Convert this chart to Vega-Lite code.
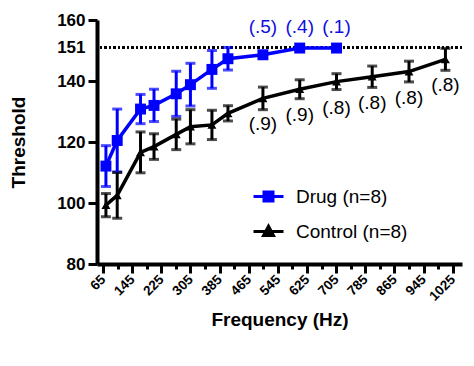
{
  "$schema": "https://vega.github.io/schema/vega-lite/v6.json",
  "width": 365,
  "height": 244,
  "autosize": "none",
  "padding": {"left": 97, "top": 20, "right": 12, "bottom": 102},
  "background": "white",
  "config": {
    "view": {"stroke": null},
    "axis": {"grid": false, "labelFont": "Liberation Sans", "titleFont": "Liberation Sans", "labelColor": "black", "titleColor": "black", "tickColor": "black", "domainColor": "black", "labelFontWeight": "bold", "titleFontWeight": "bold"},
    "legend": {"labelFont": "Liberation Sans"},
    "text": {"font": "Liberation Sans"}
  },
  "data": {
    "values": [
      {"group": "Drug (n=8)", "freq": 73, "mean": 112.1, "sem": 6.7},
      {"group": "Drug (n=8)", "freq": 104, "mean": 120.5, "sem": 10.3},
      {"group": "Drug (n=8)", "freq": 168, "mean": 130.8, "sem": 4.8},
      {"group": "Drug (n=8)", "freq": 205, "mean": 132.0, "sem": 5.3},
      {"group": "Drug (n=8)", "freq": 266, "mean": 135.8, "sem": 7.4},
      {"group": "Drug (n=8)", "freq": 305, "mean": 138.8, "sem": 7.0},
      {"group": "Drug (n=8)", "freq": 364, "mean": 143.8, "sem": 6.2},
      {"group": "Drug (n=8)", "freq": 408, "mean": 147.3, "sem": 3.7},
      {"group": "Drug (n=8)", "freq": 504, "mean": 148.6, "sem": 0, "note": "(.5)"},
      {"group": "Drug (n=8)", "freq": 605, "mean": 150.8, "sem": 0, "note": "(.4)"},
      {"group": "Drug (n=8)", "freq": 706, "mean": 150.8, "sem": 0, "note": "(.1)"},
      {"group": "Control (n=8)", "freq": 73, "mean": 99.3, "sem": 3.8},
      {"group": "Control (n=8)", "freq": 104, "mean": 102.5, "sem": 7.5},
      {"group": "Control (n=8)", "freq": 168, "mean": 116.6, "sem": 6.7},
      {"group": "Control (n=8)", "freq": 205, "mean": 118.5, "sem": 4.2},
      {"group": "Control (n=8)", "freq": 266, "mean": 122.5, "sem": 5.0},
      {"group": "Control (n=8)", "freq": 305, "mean": 125.0, "sem": 5.6},
      {"group": "Control (n=8)", "freq": 364, "mean": 125.6, "sem": 4.8},
      {"group": "Control (n=8)", "freq": 408, "mean": 129.4, "sem": 2.5},
      {"group": "Control (n=8)", "freq": 504, "mean": 134.3, "sem": 3.7, "note": "(.9)"},
      {"group": "Control (n=8)", "freq": 605, "mean": 137.3, "sem": 3.1, "note": "(.9)"},
      {"group": "Control (n=8)", "freq": 706, "mean": 139.8, "sem": 2.6, "note": "(.8)"},
      {"group": "Control (n=8)", "freq": 804, "mean": 141.4, "sem": 3.5, "note": "(.8)"},
      {"group": "Control (n=8)", "freq": 905, "mean": 143.1, "sem": 3.4, "note": "(.8)"},
      {"group": "Control (n=8)", "freq": 1005, "mean": 147.1, "sem": 3.6, "note": "(.8)"}
    ]
  },
  "encoding": {
    "x": {
      "field": "freq", "type": "quantitative",
      "scale": {"domain": [48.5, 1050.5], "nice": false, "zero": false},
      "axis": {
        "title": "Frequency (Hz)", "titleFontSize": 19, "titlePadding": 8,
        "values": [65,105,145,185,225,265,305,345,385,425,465,505,545,585,625,665,705,745,785,825,865,905,945,985,1025],
        "labelExpr": "(datum.value - 65) % 80 == 0 ? '' + datum.value : ''",
        "labelAngle": -45, "labelAlign": "right", "labelBaseline": "middle",
        "labelFontSize": 13.5, "labelPadding": 4, "labelOverlap": false,
        "tickSize": {"condition": {"test": "(datum.value - 65) % 80 == 0", "value": 9}, "value": 5},
        "tickWidth": 3, "domainWidth": 4
      }
    },
    "y": {
      "field": "mean", "type": "quantitative",
      "scale": {"domain": [80, 160], "nice": false, "zero": false},
      "axis": {
        "title": "Threshold", "titleFontSize": 19, "titlePadding": 28,
        "values": [80, 100, 120, 140, 151, 160],
        "labelFontSize": 17, "labelPadding": 3,
        "tickSize": 9, "tickWidth": 3, "domainWidth": 4,
        "tickOpacity": {"condition": {"test": "datum.value == 151", "value": 0}, "value": 1}
      }
    }
  },
  "layer": [
    {
      "mark": {"type": "rule", "strokeDash": [2, 2.5], "strokeWidth": 2, "color": "black"},
      "encoding": {"x": null, "y": {"datum": 151}}
    },
    {
      "mark": {"type": "errorbar", "ticks": {"size": 10, "thickness": 3}, "rule": {"strokeWidth": 3}},
      "encoding": {
        "yError": {"field": "sem"},
        "color": {"field": "group", "type": "nominal", "scale": {"domain": ["Drug (n=8)", "Control (n=8)"], "range": ["#0000ff", "#000000"]}}
      }
    },
    {
      "mark": {"type": "line", "strokeWidth": 3.5},
      "encoding": {
        "color": {
          "field": "group", "type": "nominal",
          "scale": {"domain": ["Drug (n=8)", "Control (n=8)"], "range": ["#0000ff", "#000000"]},
          "legend": {
            "orient": "none", "legendX": 155, "legendY": 160, "title": null, "padding": 0,
            "labelFontSize": 19, "labelColor": "black", "labelOffset": 11, "rowPadding": 8,
            "symbolSize": 900, "symbolStrokeWidth": 3,
            "encode": {
              "symbols": {
                "update": {
                  "shape": {"signal": "datum.value === 'Drug (n=8)' ? 'M-1,0H1M-0.3,-0.3H0.3V0.3H-0.3Z' : 'M-1,0H1M0,-0.35L0.33,0.27H-0.33Z'"},
                  "fill": {"signal": "datum.value === 'Drug (n=8)' ? '#0000ff' : '#000000'"},
                  "stroke": {"signal": "datum.value === 'Drug (n=8)' ? '#0000ff' : '#000000'"},
                  "opacity": {"value": 1},
                  "fillOpacity": {"value": 1}
                }
              }
            }
          }
        }
      }
    },
    {
      "transform": [{"filter": "datum.group === 'Drug (n=8)'"}],
      "mark": {"type": "point", "filled": true, "opacity": 1, "shape": "square", "size": 120, "color": "#0000ff"}
    },
    {
      "transform": [{"filter": "datum.group === 'Control (n=8)'"}],
      "mark": {"type": "point", "filled": true, "opacity": 1, "shape": "triangle-up", "size": 80, "color": "#000000"}
    },
    {
      "transform": [{"filter": "datum.group === 'Drug (n=8)' && datum.note"}],
      "mark": {"type": "text", "fontSize": 19, "color": "#1010e0"},
      "encoding": {"y": {"datum": 157.6}, "text": {"field": "note"}}
    },
    {
      "transform": [{"filter": "datum.group === 'Control (n=8)' && datum.note"}],
      "mark": {"type": "text", "fontSize": 19, "color": "black", "dy": 26},
      "encoding": {"text": {"field": "note"}}
    }
  ]
}
